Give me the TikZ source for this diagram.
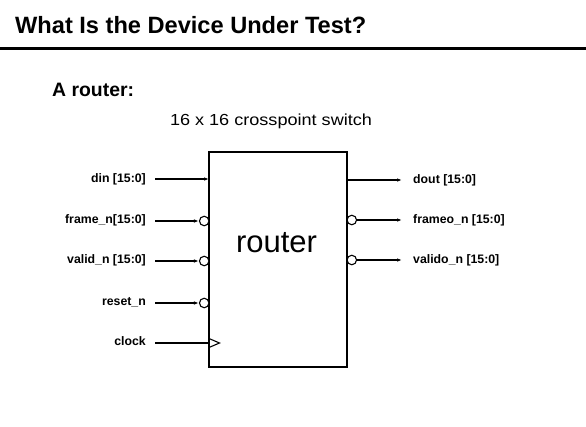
\documentclass[tikz,border=0pt]{standalone}
\usepackage{fontspec}
\setmainfont{Liberation Sans}
\usetikzlibrary{arrows.meta,calc}
\begin{document}
\begin{tikzpicture}[x=1pt,y=-1pt,
  lbl/.style={font=\fontsize{12.3}{14}\selectfont\bfseries, inner sep=0pt},
  bub/.style={circle, draw, line width=1.1pt, minimum size=9.5pt, inner sep=0pt, fill=white},
  wire/.style={line width=1.1pt},
  arr/.style={wire, -{Latex[length=5pt,width=3.5pt]}}]
\useasboundingbox (0,0) rectangle (586,426);
\fill[white] (0,0) rectangle (586,426);
% title
\node[anchor=base west, inner sep=0pt, font=\fontsize{23.6}{28}\selectfont\bfseries] (title) at (15,33) {What Is the Device Under Test?};
\coordinate (ruleL) at (0,48.5);
\coordinate (ruleR) at (586,48.5);
\draw[line width=2.6pt] (ruleL) -- (ruleR);
\node[anchor=base west, inner sep=0pt, font=\fontsize{19.4}{22}\selectfont\bfseries] (sub) at (52,96) {A router:};
\node[anchor=base, inner sep=0pt, font=\fontsize{16}{19}\selectfont] (cap) at (271,125) {\scalebox{1.13}[1]{16 x 16 crosspoint switch}};
% box
\node[draw, line width=1.5pt, minimum width=138pt, minimum height=215pt, inner sep=0pt] (dut) at (278,259.5) {};
\node[font=\fontsize{31}{36}\selectfont, inner sep=0pt] (name) at (276.5,243) {router};
% inputs
\node[lbl, anchor=east] (din) at (146,179) {din [15:0]};
\node[lbl, anchor=east] (frame) at (146,220) {frame\_n[15:0]};
\node[lbl, anchor=east] (valid) at (146,260) {valid\_n [15:0]};
\node[lbl, anchor=east] (reset) at (146,302) {reset\_n};
\node[lbl, anchor=east] (clock) at (146,341) {clock};
\coordinate (dinS) at (155,179);
\coordinate (dinE) at (209,179);
\coordinate (frameS) at (155,221);
\coordinate (validS) at (155,261);
\coordinate (resetS) at (155,303);
\coordinate (clockS) at (155,343);
\coordinate (clockE) at (209,343);
\node[bub] (fb) at (204.2,221) {};
\node[bub] (vb) at (204.2,261) {};
\node[bub] (rb) at (204.2,303) {};
\draw[arr] (dinS) -- (dinE);
\draw[arr] (frameS) -- (fb.west);
\draw[arr] (validS) -- (vb.west);
\draw[arr] (resetS) -- (rb.west);
\draw[wire] (clockS) -- (clockE);
\coordinate (ckA) at (209,338.5);
\coordinate (ckB) at (219.5,343);
\coordinate (ckC) at (209,347.5);
\draw[wire, line join=miter] (ckA) -- (ckB) -- (ckC);
% outputs
\node[lbl, anchor=west] (dout) at (413,180) {dout [15:0]};
\node[lbl, anchor=west] (frameo) at (413,220) {frameo\_n [15:0]};
\node[lbl, anchor=west] (valido) at (413,260) {valido\_n [15:0]};
\coordinate (doutS) at (347,180);
\coordinate (doutE) at (402,180);
\coordinate (frameoE) at (402,220);
\coordinate (validoE) at (402,260);
\node[bub] (fob) at (351.8,220) {};
\node[bub] (vob) at (351.8,260) {};
\draw[arr] (doutS) -- (doutE);
\draw[arr] (fob.east) -- (frameoE);
\draw[arr] (vob.east) -- (validoE);
\end{tikzpicture}
\end{document}
